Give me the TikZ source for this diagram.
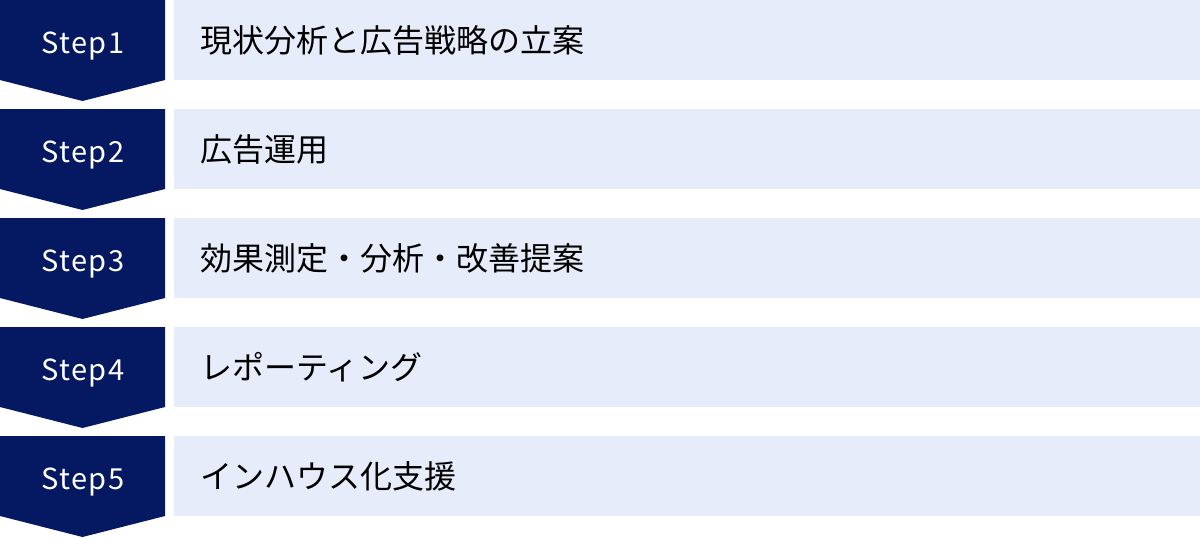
\documentclass[tikz,border=0pt]{standalone}
\usepackage{fontspec}
\setmainfont{Noto Sans CJK JP}
\newfontfamily\steplatin[LetterSpace=5.0]{Noto Sans CJK JP}
\usepackage{xcolor}
\definecolor{stepnavy}{RGB}{5,24,98}
\definecolor{boxblue}{RGB}{230,236,249}

\begin{document}
\begin{tikzpicture}
  [x=1pt,y=-1pt,
   steplabel/.style={text=white,inner sep=0pt,anchor=base,font=\steplatin\fontsize{29}{29}\selectfont},
   stepbody/.style={fill=boxblue,anchor=north west,minimum height=80pt,text width=974pt,inner xsep=26pt,inner ysep=0pt,font=\fontsize{32}{32}\selectfont}]
  \useasboundingbox (0,0) rectangle (1200,538);
  \foreach \n/\y/\txt in {1/0/現状分析と広告戦略の立案,2/109/広告運用,3/218/効果測定・分析・改善提案,4/327/レポーティング,5/436/インハウス化支援}
  {
    \fill[stepnavy] (0,\y) -- (165,\y) -- (165,\y+80) -- (82.5,\y+101) -- (0,\y+80) -- cycle;
    \node[steplabel] (s\n) at (83,\y+53) {Step\n};
    \node[stepbody] (b\n) at (174,\y) {\txt};
  }

\end{tikzpicture}
\end{document}
